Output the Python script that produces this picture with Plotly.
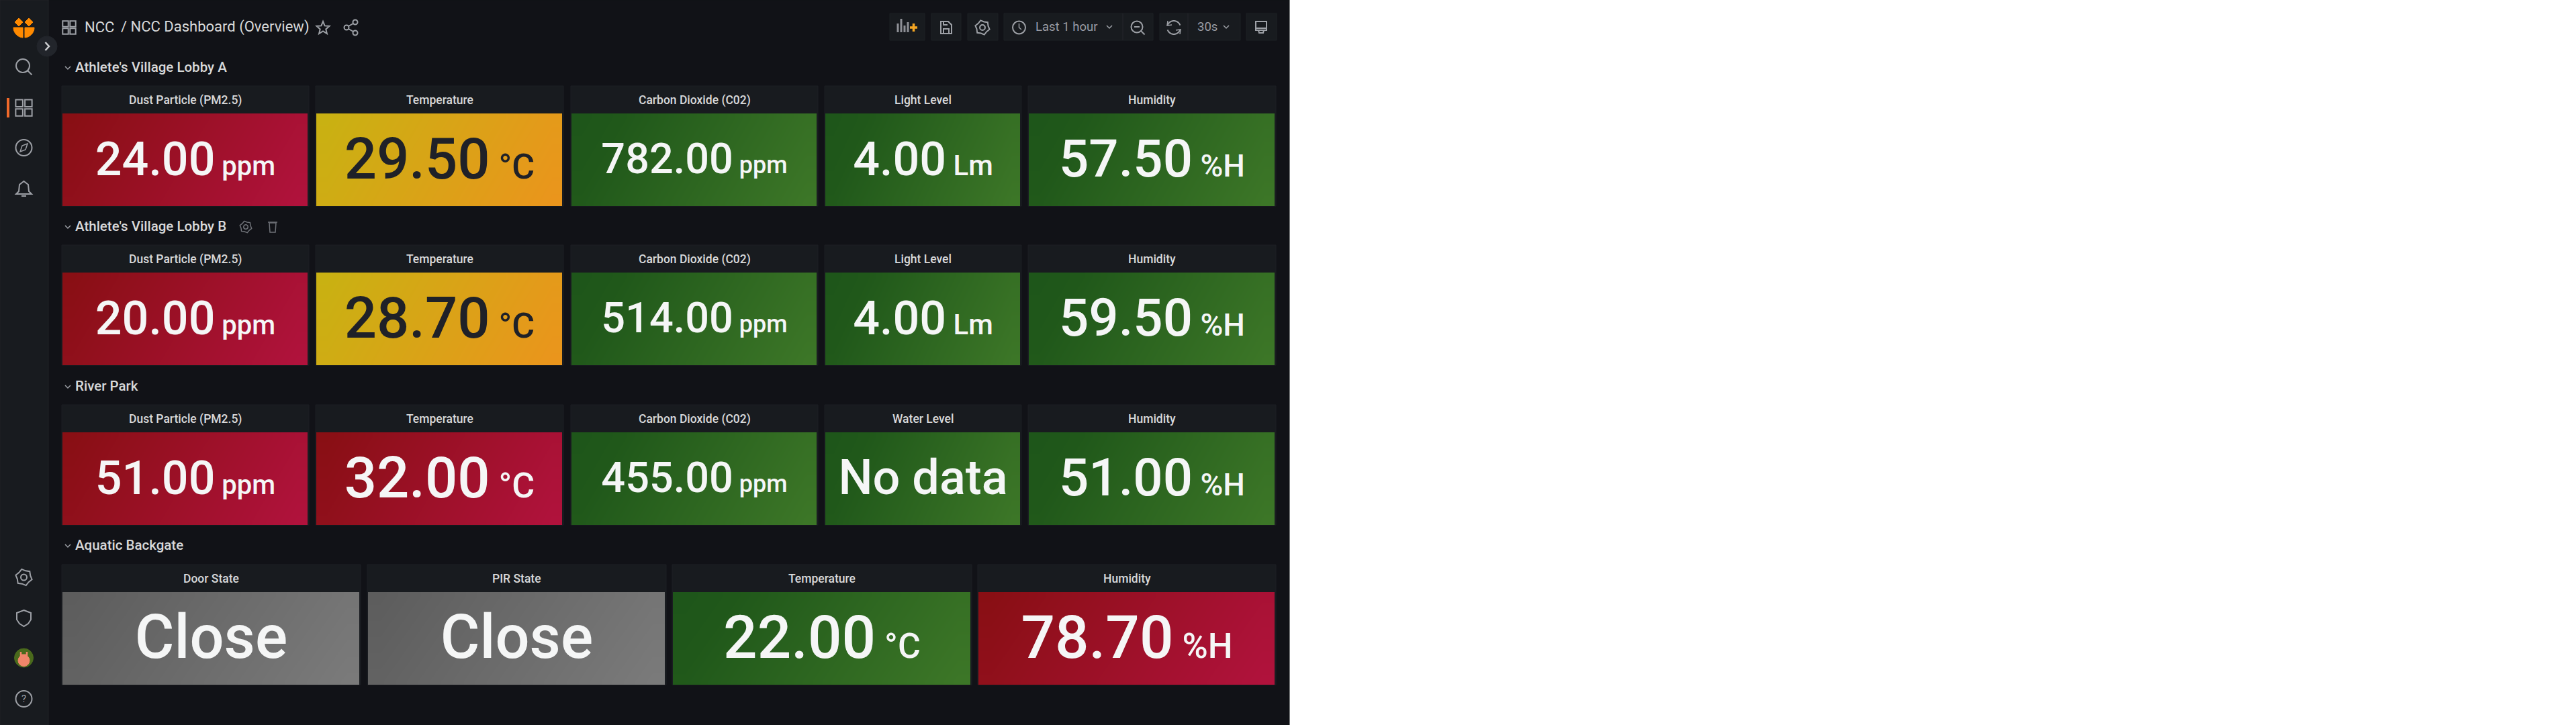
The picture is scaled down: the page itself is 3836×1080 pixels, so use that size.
import numpy as np
import plotly.graph_objects as go

# values
section_names = ["Athlete's Village Lobby A", "Athlete's Village Lobby B", "River Park", "Aquatic Backgate"]

lobby_a_titles = ["Dust Particle (PM2.5)", "Temperature", "Carbon Dioxide (C02)", "Light Level", "Humidity"]
lobby_a_values = [24.00, 29.50, 782.00, 4.00, 57.50]
lobby_a_units = ["ppm", "°C", "ppm", "Lm", "%H"]
lobby_a_states = ["red", "yellow", "green", "green", "green"]

lobby_b_titles = ["Dust Particle (PM2.5)", "Temperature", "Carbon Dioxide (C02)", "Light Level", "Humidity"]
lobby_b_values = [20.00, 28.70, 514.00, 4.00, 59.50]
lobby_b_units = ["ppm", "°C", "ppm", "Lm", "%H"]
lobby_b_states = ["red", "yellow", "green", "green", "green"]

river_titles = ["Dust Particle (PM2.5)", "Temperature", "Carbon Dioxide (C02)", "Water Level", "Humidity"]
river_values = [51.00, 32.00, 455.00, "No data", 51.00]
river_units = ["ppm", "°C", "ppm", "", "%H"]
river_states = ["red", "red", "green", "green", "green"]

aquatic_titles = ["Door State", "PIR State", "Temperature", "Humidity"]
aquatic_values = ["Close", "Close", 22.00, 78.70]
aquatic_units = ["", "", "°C", "%H"]
aquatic_states = ["grey", "grey", "green", "red"]

# layout of the page, in screen pixels
W, H = 3836, 1080
DASH_W = 1920
SIDE_W = 72
BG = "#111217"
SIDE = "#181b1f"
PANEL = "#181b1f"
LINE = "#9da0a6"
TXT = "#d8d9da"
FONT = "Roboto"

five_cols = [(92, 460), (470, 839), (850, 1218), (1228, 1521), (1531, 1900)]
four_cols = [(92, 537), (547, 992), (1001, 1447), (1456, 1900)]
row_tops = [128, 365, 603, 841]
TITLE_H = 41
BODY_H = 138

five_sizes = [70, 85, 63, 70, 78]
five_unit_sizes = [40, 52, 36, 42, 46]
four_sizes = [90, 90, 89, 89]
four_unit_sizes = [52, 52, 52, 52]
nodata_size = 72

scales = {
    "red": [[0, "#890f14"], [1, "#b0123c"]],
    "yellow": [[0, "#c9b112"], [1, "#ea951c"]],
    "green": [[0, "#1e561a"], [0.15, "#20581a"], [1, "#3c7627"]],
    "grey": [[0, "#5d5d5d"], [1, "#7a7a7a"]],
}

fig = go.Figure()
shapes = []
notes = []


def line(points, color=LINE, width=2, close=False, fill=None, layer="above"):
    d = "M " + " L ".join("{:.1f},{:.1f}".format(x, y) for x, y in points)
    if close:
        d += " Z"
    s = dict(type="path", path=d, xref="x", yref="y", layer=layer, line=dict(color=color, width=width))
    if fill:
        s["fillcolor"] = fill
    shapes.append(s)


def rect(x0, y0, x1, y1, fill, border=None, layer="below"):
    shapes.append(dict(type="rect", x0=x0, y0=y0, x1=x1, y1=y1, xref="x", yref="y", layer=layer,
                       fillcolor=fill, line=dict(color=border or fill, width=1)))


def circle(cx, cy, r, color=LINE, width=2, fill=None):
    s = dict(type="circle", x0=cx - r, y0=cy - r, x1=cx + r, y1=cy + r, xref="x", yref="y", layer="above",
             line=dict(color=color, width=width))
    if fill:
        s["fillcolor"] = fill
    shapes.append(s)


def arc(cx, cy, r, a0, a1, n=14):
    t = np.radians(np.linspace(a0, a1, n))
    return list(zip(cx + r * np.cos(t), cy + r * np.sin(t)))


def label(x, y, text, size, color=TXT, anchor="center", weight=500):
    notes.append(dict(x=x, y=y, text=text, xref="x", yref="y", showarrow=False, xanchor=anchor, yanchor="middle",
                      font=dict(family=FONT, size=size, color=color, weight=weight)))


def chevron_down(x, y, s=4, color=LINE):
    line([(x - s, y - s / 2), (x, y + s / 2), (x + s, y - s / 2)], color=color, width=1.5)


def grid_icon(cx, cy, s, color=LINE):
    # s is half the icon width
    for dx in (-1, 1):
        for dy in (-1, 1):
            px, py = cx + dx * (s * 0.55), cy + dy * (s * 0.55)
            shapes.append(dict(type="rect", x0=px - s * 0.42, y0=py - s * 0.42, x1=px + s * 0.42, y1=py + s * 0.42,
                               xref="x", yref="y", layer="above", line=dict(color=color, width=2)))


def gear(cx, cy, r, color=LINE, width=2):
    t = np.radians(np.arange(0, 360, 30) + 15)
    rad = np.where(np.arange(12) % 2 == 0, r, r * 0.8)
    line(list(zip(cx + rad * np.cos(t), cy + rad * np.sin(t))), color=color, width=width, close=True)
    circle(cx, cy, r * 0.36, color=color, width=width)


def magnifier(cx, cy, r, color=LINE, width=2):
    circle(cx, cy, r, color=color, width=width)
    line([(cx + r * 0.72, cy + r * 0.72), (cx + r * 1.35, cy + r * 1.35)], color=color, width=width)


def add_row(top, cols, titles, values, units, states, sizes, unit_sizes):
    xs, ys, texts, font_sizes, font_colors = [], [], [], [], []
    for i in range(len(cols)):
        x0, x1 = cols[i]
        rect(x0, top, x1, top + TITLE_H + BODY_H, PANEL, "#1c1f24")
        label((x0 + x1) / 2, top + 21, titles[i], 17.5)

        # diagonal stat panel background
        bx0, bx1, by0, by1 = x0 + 1, x1 - 2, top + TITLE_H, top + TITLE_H + BODY_H
        n = 12
        u, v = np.meshgrid(np.linspace(0, 1, n), np.linspace(0, 1, n))
        fig.add_trace(go.Heatmap(x=np.linspace(bx0, bx1, n + 1), y=np.linspace(by0, by1, n + 1),
                                 z=0.82 * u + 0.18 * v, zmin=0, zmax=1, zsmooth="best",
                                 colorscale=scales[states[i]], showscale=False, hoverinfo="skip"))

        val = values[i]
        size = sizes[i]
        if isinstance(val, str):
            s = val
            if val == "No data":
                size = nodata_size
        else:
            s = "{:.2f}".format(val)
        if units[i]:
            s += "<span style='font-size:{}px'> {}</span>".format(unit_sizes[i], units[i])
        xs.append((x0 + x1) / 2)
        # text sits a little above centre otherwise
        ys.append(top + TITLE_H + BODY_H / 2 + size * 0.075)
        texts.append(s)
        font_sizes.append(size)
        font_colors.append("#1f2128" if states[i] == "yellow" else "#f5f6f6")
    fig.add_trace(go.Scatter(x=xs, y=ys, text=texts, mode="text", textposition="middle center", hoverinfo="skip",
                             textfont=dict(family=FONT, size=font_sizes, color=font_colors, weight=500)))


# page background
rect(0, 0, DASH_W, H, BG)
rect(0, 0, SIDE_W, H, SIDE, "#202226")

add_row(row_tops[0], five_cols, lobby_a_titles, lobby_a_values, lobby_a_units, lobby_a_states, five_sizes, five_unit_sizes)
add_row(row_tops[1], five_cols, lobby_b_titles, lobby_b_values, lobby_b_units, lobby_b_states, five_sizes, five_unit_sizes)
add_row(row_tops[2], five_cols, river_titles, river_values, river_units, river_states, five_sizes, five_unit_sizes)
add_row(row_tops[3], four_cols, aquatic_titles, aquatic_values, aquatic_units, aquatic_states, four_sizes, four_unit_sizes)

# section headers
for name, y in zip(section_names, [100, 337, 575, 812]):
    chevron_down(101, y + 1)
    label(110, y, name, 20.5, anchor="left")

# row action icons next to lobby B
gear(366, 338, 9, color="#6f7278", width=1.5)
line([(401, 332), (411, 332), (410, 346), (402, 346)], color="#6f7278", width=1.5, close=True)
line([(399, 331), (413, 331)], color="#6f7278", width=1.5)

# header
grid_icon(103, 41, 10)
label(124, 40, "NCC", 22, anchor="left", weight=400)
label(178, 40, "/ NCC Dashboard (Overview)", 22, anchor="left", weight=400)
t = np.radians(np.arange(0, 360, 36) - 90)
rad = np.where(np.arange(10) % 2 == 0, 10, 4.5)
line(list(zip(481 + rad * np.cos(t), 42 + rad * np.sin(t))), close=True)
circle(529, 33, 3.5)
circle(516, 41, 3.5)
circle(529, 49, 3.5)
line([(519, 39), (526, 35)])
line([(519, 43), (526, 47)])

# toolbar
for x0, x1 in [(1325, 1377), (1387, 1431), (1441, 1486), (1495, 1717), (1727, 1847), (1856, 1901)]:
    shapes.append(dict(type="rect", x0=x0, y0=20, x1=x1, y1=60, xref="x", yref="y", layer="below",
                       fillcolor="#181b1f", line=dict(color="#1d2025", width=1)))
line([(1672, 20), (1672, 60)], color="#24272c", width=1)
line([(1769, 20), (1769, 60)], color="#24272c", width=1)

for x, h in zip([1337, 1342, 1347, 1352], [13, 20, 10, 15]):
    line([(x, 48), (x, 48 - h)], color="#8e9096", width=3)
line([(1355, 41), (1366, 41)], color="#f5a623", width=3.5)
line([(1360.5, 35), (1360.5, 47)], color="#f5a623", width=3.5)

line([(1401, 32), (1412, 32), (1417, 37), (1417, 50), (1401, 50)], close=True)
line([(1405, 50), (1405, 43), (1413, 43), (1413, 50)])
line([(1405, 32), (1405, 37), (1411, 37)])

gear(1463, 41, 11)

circle(1517.5, 41, 9.5)
line([(1517.5, 35), (1517.5, 41), (1521, 44)], width=1.5)
label(1540, 40, "Last 1 hour", 18.5, color="#9a9ca3", anchor="left", weight=400)
chevron_down(1652, 40)
magnifier(1693, 40, 8.5)
line([(1689, 40), (1697, 40)])

line(arc(1748, 41, 10, 200, 340))
line(arc(1748, 41, 10, 20, 160))
line([(1739, 31), (1738, 38), (1745, 37)], width=1.5)
line([(1757, 51), (1758, 44), (1751, 45)], width=1.5)
label(1781, 40, "30s", 18.5, color="#9a9ca3", anchor="left", weight=400)
chevron_down(1826, 40)

line([(1870, 32), (1886, 32), (1886, 45), (1870, 45)], close=True)
line([(1870, 42), (1886, 42)])
line([(1874, 45), (1882, 45), (1881, 49), (1875, 49)], close=True)

# side menu
orange = "#ff8a00"
line([(28, 27), (34, 33), (28, 39), (22, 33)], color=orange, width=1, close=True, fill=orange)
line([(43, 27), (49, 33), (43, 39), (37, 33)], color=orange, width=1, close=True, fill=orange)
line([(20, 41), (34, 41), (34, 56)] + arc(35, 41, 15, 100, 170), color=orange, width=1, close=True, fill=orange)
line([(37, 41), (51, 41)] + arc(36, 41, 15, 10, 80) + [(37, 56)], color=orange, width=1, close=True, fill=orange)

circle(70, 69, 15, color="#22252b", width=1, fill="#22252b")
line([(67.5, 63), (73, 69), (67.5, 75)], color="#d0d1d4", width=2.5)

magnifier(34, 98, 10)

line([(12, 146), (12, 175)], color="#f0692a", width=4)
grid_icon(35.5, 160.5, 12.5)

circle(35.5, 220, 12)
line([(41, 214), (38, 223), (30, 226), (33, 217)], close=True, width=1.5)

line([(35.5, 270), (29, 275), (28, 285), (24, 289), (47, 289), (43, 285), (42, 275)], close=True)
line([(32, 292), (39, 292)])

gear(35.5, 860, 12.5)
line([(35.5, 909), (46, 913), (46, 923), (42, 929), (35.5, 933), (29, 929), (25, 923), (25, 913)], close=True)

circle(35.5, 980, 14, color="#4a6a1c", width=1, fill="#4a6a1c")
circle(35.5, 984, 8.5, color="#f0866a", width=1, fill="#f0866a")
line([(31, 971), (31, 980)], color="#f0866a", width=2.5)
line([(40, 971), (40, 980)], color="#f0866a", width=2.5)
line([(31, 975.5), (40, 975.5)], color="#f0866a", width=2)

circle(35.5, 1041, 12)
label(35.5, 1041, "?", 15, color=LINE, weight=400)

fig.update_layout(
    width=W, height=H, margin=dict(l=0, r=0, t=0, b=0),
    paper_bgcolor="white", plot_bgcolor="white", showlegend=False,
    xaxis=dict(range=[0, W], visible=False, fixedrange=True),
    yaxis=dict(range=[H, 0], visible=False, fixedrange=True),
    shapes=shapes, annotations=notes,
)

fig.write_html("out.html", config=dict(displayModeBar=False),
               post_script="document.body.style.margin='0';document.body.style.overflow='hidden';")
